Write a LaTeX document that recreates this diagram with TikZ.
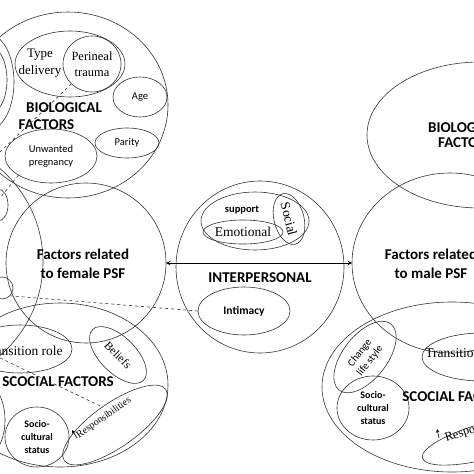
\documentclass[tikz,border=0pt]{standalone}
\usepackage{fontspec}
\setmainfont{Carlito}
\newfontfamily\tmsfont{Liberation Serif}
\usetikzlibrary{shapes.geometric}
\newcommand{\fsz}[2]{\fontsize{#1}{#2}\selectfont}
\tikzset{
  shp/.style={ellipse,draw=black!80,line width=0.6pt,inner sep=0pt,outer sep=0pt,align=center},
  dsh/.style={draw=black!80,dashed,line width=0.6pt},
  hd/.style={font=\fsz{15}{19}\bfseries,align=center},
  lbl/.style={font=\fsz{10.5}{13},align=center},
  blbl/.style={font=\fsz{10}{13}\bfseries,align=center},
  tms/.style={font=\tmsfont\fsz{#1}{16.5},align=center},
}
\begin{document}
\begin{tikzpicture}[x=1pt,y=-1pt]
\useasboundingbox (0,0) rectangle (474,474);
\clip (0,0) rectangle (474,474);

% left edge, cut off
\node[shp,minimum width=52pt,minimum height=96pt] (leftOut) at (-12,82) {};
\node[shp,minimum width=38pt,minimum height=70pt] (leftIn) at (-12,80) {};
\node[shp,minimum width=246pt,minimum height=246pt] (leftBig) at (-80,262) {};
\node[shp,minimum width=20pt,minimum height=32pt] (leftSm2) at (-2,205) {};
\node[shp,minimum width=22pt,minimum height=22pt] (leftSm) at (2,288) {};
\node[shp,minimum width=54pt,minimum height=84pt] (leftBot) at (-22,420) {};

% female biological
\node[shp,minimum width=200pt,minimum height=186pt] (bioF) at (68,105) {};
\node[shp,minimum width=110pt,minimum height=66pt] (delivF) at (70,64) {};
\node[shp,minimum width=58pt,minimum height=56pt,tms=12.5] (perinF) at (92,64) {Perineal\\trauma};
\node[tms=13] (typeF) at (40,63) {Type\\delivery};
\node[shp,minimum width=54pt,minimum height=40pt,lbl] (ageF) at (140,97) {Age};
\node[shp,minimum width=92pt,minimum height=54pt,lbl] (unwF) at (51,156) {Unwanted\\pregnancy};
\node[shp,minimum width=64pt,minimum height=30pt,lbl] (parF) at (127,143) {Parity};
\node[hd] (bioFt1) at (64,108) {BIOLOGICAL};
\node[hd] (bioFt2) at (46.5,125) {FACTORS};

% female PSF
\node[shp,minimum width=160pt,minimum height=160pt] (femPSF) at (86,263) {};
\node[hd] (femPSFt) at (83,263.5) {Factors related\\to female PSF};

% female social
\node[shp,minimum width=216pt,minimum height=164pt] (socF) at (60,385) {};
\node[shp,minimum width=104pt,minimum height=48pt] (transF) at (20,349) {};
\node[tms=13.5] (transFt) at (23,351) {Transition role};
\node[shp,rotate=-45,minimum width=72pt,minimum height=36pt,tms=11.5] (belF) at (118,355) {Beliefs};
\node[hd] (socFt) at (58,382) {SCOCIAL FACTORS};
\node[shp,rotate=35,minimum width=124pt,minimum height=44pt] (respF) at (115,425) {};
\node[tms=10,rotate=35] (respFt) at (104,418) {Responsibilities};
\node[shp,minimum width=64pt,minimum height=60pt,blbl] (socioF) at (37,437) {Socio-\\cultural\\status};

% interpersonal
\node[shp,minimum width=168pt,minimum height=172pt] (inter) at (260,267) {};
\node[hd] (intert) at (260,278) {INTERPERSONAL};
\node[shp,minimum width=108pt,minimum height=58pt] (socsup) at (255,221) {};
\node[blbl,font=\fsz{10.5}{13}\bfseries] (supt) at (242,210) {support};
\node[shp,minimum width=80pt,minimum height=24pt,tms=13.5] (emot) at (243,232) {Emotional};
\node[shp,rotate=-76,minimum width=52pt,minimum height=30pt,tms=13.5] (socl) at (289,219) {Social};
\node[shp,minimum width=92pt,minimum height=48pt,blbl,font=\fsz{11.5}{13}\bfseries] (intim) at (244,311) {Intimacy};

% male biological
\node[shp,minimum width=226pt,minimum height=146pt] (bioM) at (480,135) {};
\node[hd] (bioMt1) at (466,128) {BIOLOGICAL};
\node[hd] (bioMt2) at (466,143) {FACTORS};

% male PSF
\node[shp,minimum width=196pt,minimum height=180pt] (malePSF) at (450,263) {};
\node[hd] (malePSFt) at (431,263.5) {Factors related\\to male PSF};

% male social
\node[shp,minimum width=260pt,minimum height=170pt] (socM) at (452,387) {};
\node[shp,rotate=52,minimum width=84pt,minimum height=44pt,lbl] (chgM) at (365,357) {Change\\life style};
\node[shp,minimum width=72pt,minimum height=64pt,blbl] (socioM) at (373,408) {Socio-\\cultural\\status};
\node[shp,minimum width=120pt,minimum height=48pt] (transM) at (482,357) {};
\node[tms=13.5] (transMt) at (465,353) {Transition role};
\node[hd] (socMt) at (458,397) {SCOCIAL FACTORS};
\node[shp,rotate=15,minimum width=140pt,minimum height=36pt] (respM) at (490,440) {};
\node[tms=12.5,rotate=18,anchor=west] (respMt) at (442,440) {Responsibilities};

% connectors
\draw[<->,>=stealth,line width=1pt] (femPSF.east) -- (malePSF.west);
\coordinate (dPer) at (0,152);
\draw[dsh] (perinF.south west) -- (dPer);
\coordinate (dUnw) at (0,198);
\draw[dsh] (unwF.south west) -- (dUnw);
\draw[dsh] (intim.west) -- (leftSm.south east);
\coordinate (dSoc) at (0,358);
\draw[dsh] (dSoc) -- (respF.north);
\coordinate (aF1) at (77,438);
\coordinate (aF2) at (72,430);
\draw[->,>=stealth,line width=0.6pt] (aF1) -- (aF2);
\coordinate (aM1) at (439,438);
\coordinate (aM2) at (437,429);
\draw[->,>=stealth,line width=0.6pt] (aM1) -- (aM2);

\end{tikzpicture}
\end{document}
